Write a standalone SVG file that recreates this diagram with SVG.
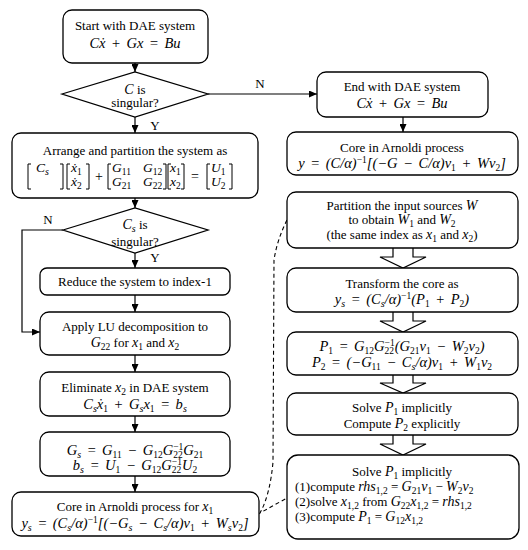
<svg xmlns="http://www.w3.org/2000/svg" width="528" height="550" viewBox="0 0 528 550">
<defs>
<style>
.b{fill:#fff;stroke:#000;stroke-width:1.3}
.t{font-family:"Liberation Serif","Times New Roman",serif;font-size:13px;text-anchor:middle;fill:#000}
.s{text-anchor:start}
.m{font-family:"Liberation Serif","Times New Roman",serif;font-size:14.5px;font-style:italic;fill:#000;word-spacing:2px}
.mx{font-family:"Liberation Serif","Times New Roman",serif;font-size:13.5px;font-style:italic;fill:#000}
.tm{text-anchor:middle}
.i{font-family:"Liberation Serif",serif;font-style:italic;font-size:14px}
.sb{font-size:9.5px;font-style:normal;baseline-shift:-2.5px}
.ss{font-size:10px;font-style:italic;baseline-shift:-2.5px}
.sp{font-size:9.5px;font-style:normal;baseline-shift:5px}
.ln{fill:none;stroke:#000;stroke-width:1.2}
.ha{fill:#fff;stroke:#000;stroke-width:1.2}
.dash{fill:none;stroke:#000;stroke-width:1.1;stroke-dasharray:4,3}
.br{fill:none;stroke:#000;stroke-width:1}
</style>
<marker id="ar" markerWidth="8" markerHeight="7" refX="8" refY="3.5" orient="auto" markerUnits="userSpaceOnUse">
<path d="M0,0 L8,3.5 L0,7 z" fill="#000"/>
</marker>
</defs>
<rect width="528" height="550" fill="#fff"/>

<g id="connectors">
<path class="ln" d="M135,63 V72" marker-end="url(#ar)"/>
<path class="ln" d="M135,117 V133" marker-end="url(#ar)"/>
<path class="ln" d="M208,94 H317" marker-end="url(#ar)"/>
<path class="ln" d="M403,117 V132" marker-end="url(#ar)"/>
<path class="ln" d="M135,198 V208" marker-end="url(#ar)"/>
<path class="ln" d="M135,253 V268" marker-end="url(#ar)"/>
<path class="ln" d="M63,230 H22 V332 H40" marker-end="url(#ar)"/>
<path class="ln" d="M135,295 V312" marker-end="url(#ar)"/>
<path class="ln" d="M135,355 V372" marker-end="url(#ar)"/>
<path class="ln" d="M135,416 V432" marker-end="url(#ar)"/>
<path class="ln" d="M135,476 V492" marker-end="url(#ar)"/>
<path class="ha" d="M393,248 V257 H380 L403,268 L426,257 H413 V248"/>
<path class="ha" d="M393,312 V321 H380 L403,332 L426,321 H413 V312"/>
<path class="ha" d="M393,375 V383 H380 L403,393 L426,383 H413 V375"/>
<path class="ha" d="M393,435 V444 H380 L403,455 L426,444 H413 V435"/>
<path class="dash" d="M287,220 Q277,240 274,260 L273,462 Q270,495 260,513 L287,498"/>
<text class="t" x="260" y="88">N</text>
<text class="t" x="155" y="130">Y</text>
<text class="t" x="48" y="224">N</text>
<text class="t" x="155" y="262">Y</text>
</g>

<g id="start">
<rect class="b" x="63" y="10" width="145" height="53" rx="9"/>
<text class="t" x="135" y="30">Start with DAE system</text>
<text class="m tm" x="135" y="48">Cẋ + Gx = Bu</text>
</g>

<g id="dec1">
<polygon class="b" points="62,94 135,72 208,94 135,117"/>
<text class="t" x="135" y="94"><tspan class="i">C</tspan> is</text>
<text class="t" x="135" y="107">singular?</text>
</g>

<g id="end">
<rect class="b" x="317" y="72" width="171" height="45" rx="9"/>
<text class="t" x="402" y="91">End with DAE system</text>
<text class="m tm" x="402" y="108">Cẋ + Gx = Bu</text>
</g>

<g id="core">
<rect class="b" x="287" y="132" width="231" height="43" rx="9"/>
<text class="t" x="402" y="152">Core in Arnoldi process</text>
<text class="m tm" x="402" y="168">y = (C/α)<tspan class="sp">−1</tspan>[(−G − C/α)v<tspan class="sb">1</tspan> + Wv<tspan class="sb">2</tspan>]</text>
</g>

<g id="arrange">
<rect class="b" x="12" y="133" width="246" height="65" rx="9"/>
<text class="t" x="135" y="155">Arrange and partition the system as</text>
<path class="br" d="M31,164 H28 V189 H31 M60,164 H63 V189 H60"/>
<text class="mx s" x="36" y="172">C<tspan class="ss">s</tspan></text>
<path class="br" d="M70,164 H67 V189 H70 M86,164 H89 V189 H86"/>
<text class="mx s" x="71" y="172">ẋ<tspan class="sb">1</tspan></text>
<text class="mx s" x="71" y="186">ẋ<tspan class="sb">2</tspan></text>
<text class="t" x="99" y="181" style="font-size:14px">+</text>
<path class="br" d="M111,164 H108 V189 H111 M163,164 H166 V189 H163"/>
<text class="mx s" x="112" y="172">G<tspan class="sb">11</tspan></text>
<text class="mx s" x="143" y="172">G<tspan class="sb">12</tspan></text>
<text class="mx s" x="112" y="186">G<tspan class="sb">21</tspan></text>
<text class="mx s" x="143" y="186">G<tspan class="sb">22</tspan></text>
<path class="br" d="M171,164 H168 V189 H171 M181,164 H184 V189 H181"/>
<text class="mx s" x="170" y="172">x<tspan class="sb">1</tspan></text>
<text class="mx s" x="170" y="186">x<tspan class="sb">2</tspan></text>
<text class="t" x="195" y="181" style="font-size:14px">=</text>
<path class="br" d="M210,164 H207 V189 H210 M229,164 H232 V189 H229"/>
<text class="mx s" x="211" y="172">U<tspan class="sb">1</tspan></text>
<text class="mx s" x="211" y="186">U<tspan class="sb">2</tspan></text>
</g>

<g id="dec2">
<polygon class="b" points="63,230 135,208 208,230 135,253"/>
<text class="t" x="135" y="229"><tspan class="i">C</tspan><tspan class="ss">s</tspan> is</text>
<text class="t" x="135" y="246">singular?</text>
</g>

<g id="reduce">
<rect class="b" x="40" y="268" width="190" height="27" rx="7"/>
<text class="t" x="135" y="286">Reduce the system to index-1</text>
</g>

<g id="apply">
<rect class="b" x="40" y="312" width="190" height="43" rx="9"/>
<text class="t" x="135" y="331">Apply LU decomposition to</text>
<text class="t" x="135" y="347"><tspan class="i">G</tspan><tspan class="sb">22</tspan> for <tspan class="i">x</tspan><tspan class="sb">1</tspan> and <tspan class="i">x</tspan><tspan class="sb">2</tspan></text>
</g>

<g id="eliminate">
<rect class="b" x="40" y="372" width="190" height="44" rx="9"/>
<text class="t" x="135" y="392">Eliminate <tspan class="i">x</tspan><tspan class="sb">2</tspan> in DAE system</text>
<text class="m tm" x="135" y="409">C<tspan class="ss">s</tspan>ẋ<tspan class="sb">1</tspan> + G<tspan class="ss">s</tspan>x<tspan class="sb">1</tspan> = b<tspan class="ss">s</tspan></text>
</g>

<g id="gs">
<rect class="b" x="40" y="432" width="190" height="44" rx="9"/>
<text class="m tm" x="135" y="455">G<tspan class="ss">s</tspan> = G<tspan class="sb">11</tspan> − G<tspan class="sb">12</tspan>G<tspan class="sb">22</tspan><tspan class="sp" dx="-9.5">−1</tspan>G<tspan class="sb">21</tspan></text>
<text class="m tm" x="135" y="470">b<tspan class="ss">s</tspan> = U<tspan class="sb">1</tspan> − G<tspan class="sb">12</tspan>G<tspan class="sb">22</tspan><tspan class="sp" dx="-9.5">−1</tspan>U<tspan class="sb">2</tspan></text>
</g>

<g id="corex1">
<rect class="b" x="12" y="492" width="247" height="44" rx="9"/>
<text class="t" x="135" y="511">Core in Arnoldi process for <tspan class="i">x</tspan><tspan class="sb">1</tspan></text>
<text class="m tm" x="135" y="528">y<tspan class="ss">s</tspan> = (C<tspan class="ss">s</tspan>/α)<tspan class="sp">−1</tspan>[(−G<tspan class="ss">s</tspan> − C<tspan class="ss">s</tspan>/α)v<tspan class="sb">1</tspan> + W<tspan class="ss">s</tspan>v<tspan class="sb">2</tspan>]</text>
</g>

<g id="partition">
<rect class="b" x="287" y="192" width="231" height="56" rx="9"/>
<text class="t" x="402" y="210">Partition the input sources <tspan class="i">W</tspan></text>
<text class="t" x="402" y="224">to obtain <tspan class="i">W</tspan><tspan class="sb">1</tspan> and <tspan class="i">W</tspan><tspan class="sb">2</tspan></text>
<text class="t" x="402" y="239">(the same index as <tspan class="i">x</tspan><tspan class="sb">1</tspan> and <tspan class="i">x</tspan><tspan class="sb">2</tspan>)</text>
</g>

<g id="transform">
<rect class="b" x="287" y="268" width="231" height="44" rx="9"/>
<text class="t" x="402" y="288">Transform the core as</text>
<text class="m tm" x="402" y="304">y<tspan class="ss">s</tspan> = (C<tspan class="ss">s</tspan>/α)<tspan class="sp">−1</tspan>(P<tspan class="sb">1</tspan> + P<tspan class="sb">2</tspan>)</text>
</g>

<g id="pbox">
<rect class="b" x="287" y="332" width="231" height="43" rx="9"/>
<text class="m tm" x="402" y="351">P<tspan class="sb">1</tspan> = G<tspan class="sb">12</tspan>G<tspan class="sb">22</tspan><tspan class="sp" dx="-9.5">−1</tspan>(G<tspan class="sb">21</tspan>v<tspan class="sb">1</tspan> − W<tspan class="sb">2</tspan>v<tspan class="sb">2</tspan>)</text>
<text class="m tm" x="402" y="367">P<tspan class="sb">2</tspan> = (−G<tspan class="sb">11</tspan> − C<tspan class="ss">s</tspan>/α)v<tspan class="sb">1</tspan> + W<tspan class="sb">1</tspan>v<tspan class="sb">2</tspan></text>
</g>

<g id="solve">
<rect class="b" x="287" y="393" width="231" height="42" rx="9"/>
<text class="t" x="402" y="412">Solve <tspan class="i">P</tspan><tspan class="sb">1</tspan> implicitly</text>
<text class="t" x="402" y="428">Compute <tspan class="i">P</tspan><tspan class="sb">2</tspan> explicitly</text>
</g>

<g id="solvep1">
<rect class="b" x="287" y="455" width="232" height="84" rx="11"/>
<text class="t" x="402" y="476">Solve <tspan class="i">P</tspan><tspan class="sb">1</tspan> implicitly</text>
<text class="t s" x="295" y="491">(1)compute <tspan class="i">rhs</tspan><tspan class="sb">1,2</tspan> = <tspan class="i">G</tspan><tspan class="sb">21</tspan><tspan class="i">v</tspan><tspan class="sb">1</tspan> − <tspan class="i">W</tspan><tspan class="sb">2</tspan><tspan class="i">v</tspan><tspan class="sb">2</tspan></text>
<text class="t s" x="295" y="506">(2)solve <tspan class="i">x</tspan><tspan class="sb">1,2</tspan> from <tspan class="i">G</tspan><tspan class="sb">22</tspan><tspan class="i">x</tspan><tspan class="sb">1,2</tspan> = <tspan class="i">rhs</tspan><tspan class="sb">1,2</tspan></text>
<text class="t s" x="295" y="521">(3)compute <tspan class="i">P</tspan><tspan class="sb">1</tspan> = <tspan class="i">G</tspan><tspan class="sb">12</tspan><tspan class="i">x</tspan><tspan class="sb">1,2</tspan></text>
</g>
</svg>
